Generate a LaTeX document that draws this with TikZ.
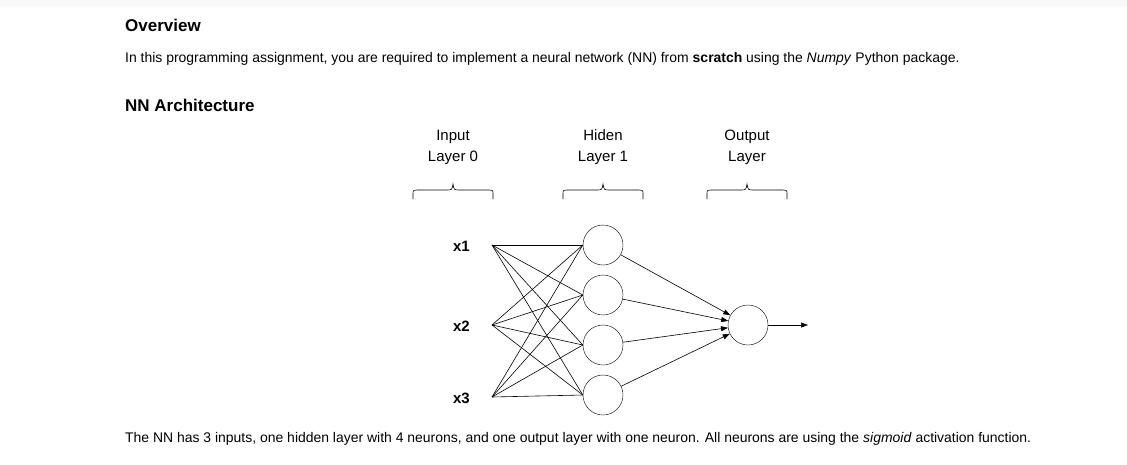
\documentclass[tikz,border=0pt]{standalone}
\usepackage{fontspec}
\setmainfont{Liberation Sans}
\usetikzlibrary{arrows.meta}
\begin{document}
\begin{tikzpicture}[x=1pt,y=-1pt,
  neuron/.style={circle,draw,minimum size=40pt,inner sep=0pt},
  txt/.style={anchor=west,inner sep=0pt,font=\fontsize{13.95}{16}\selectfont},
  head/.style={anchor=west,inner sep=0pt,font=\fontsize{17}{19}\selectfont\bfseries},
  lbl/.style={align=center,inner sep=0pt,font=\fontsize{15}{21}\selectfont},
  inp/.style={anchor=east,inner sep=0pt,font=\fontsize{15}{17}\selectfont\bfseries},
  conn/.style={line width=0.6pt},
  arr/.style={line width=0.6pt,-{Triangle[length=7pt,width=5pt]}},
  brace/.style={line width=0.6pt}]
\useasboundingbox (0,0) rectangle (1127,464);
\fill[black!3] (0,0) rectangle (1127,6);
\node[head] (t1) at (125,25) {Overview};
\node[txt] (p1) at (125,59) {In this programming assignment, you are required to implement a neural network (NN) from \textbf{scratch} using the \textit{Numpy} Python package.};
\node[head] (t2) at (125,105) {NN Architecture};
\node[txt] (p2) at (125,439) {The NN has 3 inputs, one hidden layer with 4 neurons, and one output layer with one neuron. All neurons are using the \textit{sigmoid} activation function.};
\node[lbl] (L0) at (453,147) {Input\\Layer 0};
\node[lbl] (L1) at (603,147) {Hiden\\Layer 1};
\node[lbl] (L2) at (747,147) {Output\\Layer};
\foreach \c in {453,603,747}{
  \draw[brace] (\c-40,199) -- (\c-40,194) .. controls (\c-40,190) .. (\c-34,190) -- (\c-7,190) .. controls (\c-1,190) .. (\c,184)
     .. controls (\c+1,190) .. (\c+7,190) -- (\c+34,190) .. controls (\c+40,190) .. (\c+40,194) -- (\c+40,199);
}
\node[inp] (x1) at (470,246) {x1};
\node[inp] (x2) at (470,326) {x2};
\node[inp] (x3) at (470,398) {x3};
\coordinate (i1) at (492,245);
\coordinate (i2) at (492,325);
\coordinate (i3) at (492,397);
\node[neuron] (h1) at (603,245) {};
\node[neuron] (h2) at (603,295) {};
\node[neuron] (h3) at (603,345) {};
\node[neuron] (h4) at (603,395) {};
\node[neuron] (o) at (748,325) {};
\coordinate (out) at (808,325);
\foreach \i in {1,2,3}{\foreach \h in {1,2,3,4}{\draw[conn] (i\i) -- (h\h.west);}}
\foreach \h in {1,2,3,4}{\draw[arr] (h\h) -- (o);}
\draw[arr] (o) -- (out);
\end{tikzpicture}
\end{document}
